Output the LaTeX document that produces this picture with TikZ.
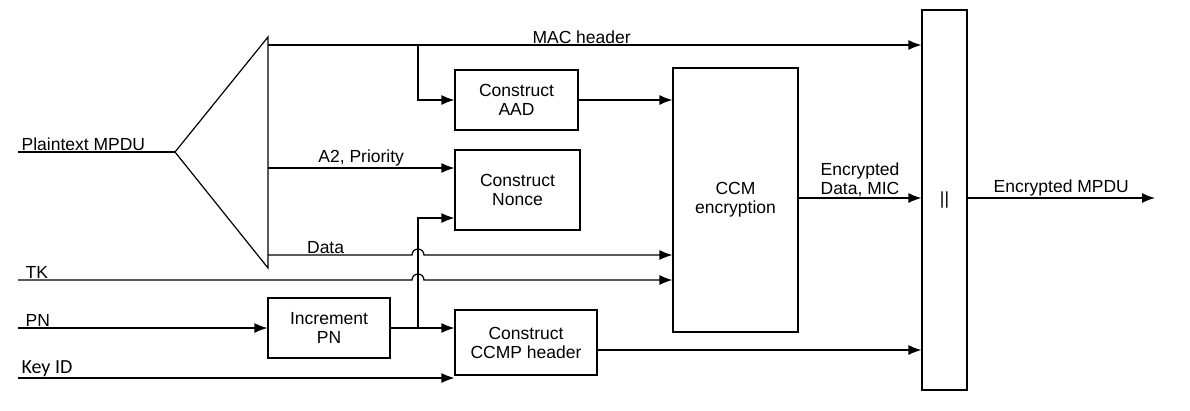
\documentclass[tikz,border=0pt]{standalone}
\usepackage{fontspec}
\setmainfont{Liberation Sans}
\newfontfamily\keyfont{Carlito}
\usetikzlibrary{arrows.meta,positioning}
\begin{document}
\begin{tikzpicture}[x=1pt,y=-1pt,>={Latex[length=13pt,width=10pt]},line width=1.2pt,
  font=\fontsize{17.5}{19}\selectfont]
  \tikzstyle{blk}=[draw,align=center,inner sep=0pt]
  \tikzstyle{lbl}=[inner sep=1pt]
  \useasboundingbox (0,0) rectangle (1190,410);

  % splitter
  \coordinate (apex) at (175,152);
  \draw (apex) -- (268,37) -- (268,268) -- cycle;

  % blocks
  \node[blk,minimum width=123,minimum height=60] (aad)   at (516.5,100) {Construct\\AAD};
  \node[blk,minimum width=125,minimum height=80] (nonce) at (517.5,190) {Construct\\Nonce};
  \node[blk,minimum width=125,minimum height=264] (ccm)  at (735.5,200) {CCM\\encryption};
  \node[blk,minimum width=122,minimum height=60] (inc)   at (329,328) {Increment\\PN};
  \node[blk,minimum width=142,minimum height=65] (hdr)   at (526,342.5) {Construct\\CCMP header};
  \node[blk,minimum width=45,minimum height=380] (cat)   at (944.5,200) {||};

  % inputs
  \coordinate (pt) at (18,152);
  \coordinate (tk) at (18,280);
  \coordinate (pn) at (18,328);
  \coordinate (kid) at (18,378);
  \coordinate (out) at (1155,198);

  \draw (pt) node[lbl,above right=0pt and 2pt] {Plaintext MPDU} -- (apex);
  \draw[->] (268,45) -- node[lbl,above,pos=0.48] {MAC header} (cat.west |- 0,45);
  \draw[->] (418,45) -- (418,100) -- (aad.west);
  \draw[->] (268,168) -- node[lbl,above,pos=0.5] {A2, Priority} (nonce.west |- 0,168);
  \draw[->] (268,255) -- node[lbl,above,pos=0.4] {Data} (412,255) arc (180:360:6) -- (ccm.west |- 0,255);
  \draw[->] (tk) node[lbl,above right=0pt and 6pt] {TK} -- (412,280) arc (180:360:6) -- (ccm.west |- 0,280);
  \draw[->] (pn) node[lbl,above right=0pt and 6pt] {PN} -- (inc.west);
  \draw[->] (inc.east) -- (hdr.west |- inc.east);
  \draw[->] (418,328) -- (418,218) -- (nonce.west |- 0,218);
  \draw[->] (kid) node[lbl,above right=0pt and 2pt,font=\keyfont\fontsize{20}{22}\selectfont] {Key ID} -- (hdr.west |- kid);
  \draw[->] (aad.east) -- (ccm.west |- aad.east);
  \draw[->] (hdr.east |- 0,350) -- (cat.west |- 0,350);
  \draw[->] (ccm.east |- 0,198) -- node[lbl,above,align=left] {Encrypted\\Data, MIC} (cat.west |- 0,198);
  \draw[->] (cat.east |- out) -- node[lbl,above] {Encrypted MPDU} (out);
\end{tikzpicture}
\end{document}
